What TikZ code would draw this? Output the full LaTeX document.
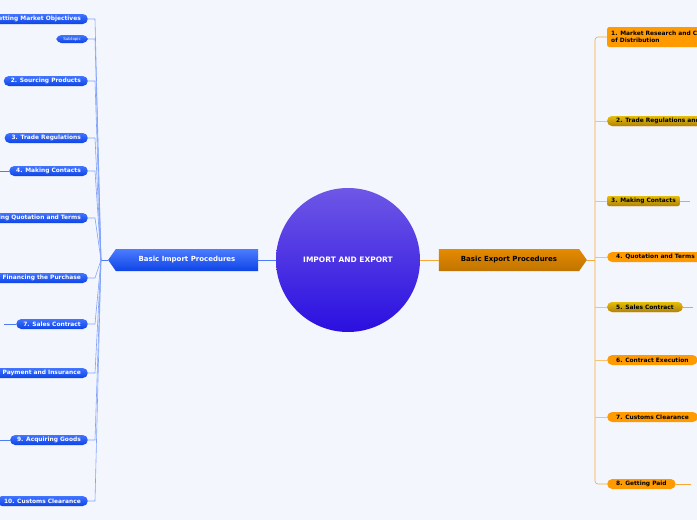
\documentclass[tikz,border=0pt]{standalone}
\usepackage{fontspec}
\setmainfont{DejaVu Sans}
\usetikzlibrary{shapes.geometric,shapes.symbols}
\definecolor{bg}{HTML}{F3F6FD}
\definecolor{bl}{HTML}{1F5BFF}
\definecolor{bld}{HTML}{0E44E6}
\definecolor{bline}{HTML}{4C7CF6}
\definecolor{og}{HTML}{FF9A00}
\definecolor{gold}{HTML}{D9A20E}
\definecolor{oline}{HTML}{F7A733}
\definecolor{ctop}{HTML}{6E57E6}
\definecolor{cbot}{HTML}{2A0FE0}
\begin{document}
\begin{tikzpicture}[x=1pt,y=-1pt,
 lnode/.style={rounded corners=5pt,top color=bl!85!white,bottom color=bld,text=white,font=\fontsize{5.9}{7}\selectfont\bfseries,minimum height=10pt,inner xsep=7pt,inner ysep=0pt,anchor=east},
 rnode/.style={rounded corners=5pt,fill=og,text=black,font=\fontsize{5.9}{7}\selectfont\bfseries,minimum height=10pt,inner xsep=9pt,inner ysep=0pt,anchor=west},
 gnode/.style={rnode,top color=gold!70!yellow,bottom color=gold!80!black},
 bcon/.style={draw=bline,line width=0.6pt},
 ocon/.style={draw=oline,line width=0.6pt}]
\clip (0,0) rectangle (697,520);
\fill[bg] (0,0) rectangle (697,520);
% center
\node[circle,minimum size=144pt,top color=ctop,bottom color=cbot,text=white,font=\fontsize{7.5}{9}\selectfont\bfseries] (c) at (348,260) {IMPORT AND EXPORT};
% main nodes
\node[signal,signal to=west,signal pointer angle=110,minimum width=150pt,minimum height=22pt,inner sep=0pt,top color=bl!80!white,bottom color=bld,text=white,font=\fontsize{7}{8}\selectfont\bfseries] (imp) at (187,260) {Basic Import Procedures};
\node[signal,signal to=east,signal pointer angle=110,minimum width=148pt,minimum height=22pt,inner sep=0pt,top color=og!90!black,bottom color=og!75!black,text=black,font=\fontsize{7}{8}\selectfont\bfseries] (exp) at (509,260) {Basic Export Procedures};
\draw[bcon] (c.west) -- (imp.east);
\draw[ocon] (c.east) -- (exp.west);
\coordinate (jl) at (101,260);
\draw[bcon] (imp.west) -- (jl);
% left children
\foreach \n/\y/\t in {a/19/1. Setting Market Objectives,c2/81/2. Sourcing Products,d/138/3. Trade Regulations,e/171/4. Making Contacts,f/218/5. Getting Quotation and Terms,g/278/6. Financing the Purchase,h/324/7. Sales Contract,i/373/8. Payment and Insurance,j/440/9. Acquiring Goods,k/501/10. Customs Clearance}{
 \node[lnode] (L\n) at (88,\y) {\t};
 \draw[bcon,draw=bline!70!white] (jl) -- (95,\y) -- (L\n.east);
}
\node[lnode,font=\fontsize{4}{5}\selectfont,minimum height=8pt] (Lb) at (88,39) {Subtopic};
\draw[bcon,draw=bline!70!white] (jl) -- (95,39) -- (Lb.east);
\draw[bcon] (Le.west) -- ++(-12,0);
\draw[bcon] (Lh.west) -- ++(-12,0);
\draw[bcon] (Lj.west) -- ++(-12,0);
% right children
\node[rnode,rounded corners=2pt,minimum height=20pt,align=left,inner xsep=4pt] (R1) at (607,37) {1. Market Research and Channels\\of Distribution};
\node[gnode] (R2) at (607,121) {2. Trade Regulations and Standards};
\node[gnode,rounded corners=2pt,inner xsep=4pt] (R3) at (607,201) {3. Making Contacts};
\node[rnode] (R4) at (607,257) {4. Quotation and Terms};
\node[gnode] (R5) at (607,307) {5. Sales Contract};
\node[rnode] (R6) at (607,360) {6. Contract Execution};
\node[rnode] (R7) at (607,417) {7. Customs Clearance};
\node[rnode] (R8) at (607,484) {8. Getting Paid};
\draw[ocon] (exp.east) -- (595,260);
\draw[ocon,rounded corners=3pt] (R1.west) -- (595,37) -- (595,484) -- (R8.west);
\foreach \r in {R2,R3,R4,R5,R6,R7}{\draw[ocon,draw=oline!70!white] (595,0|-\r.west) -- (\r.west);}
\draw[ocon] (R3.east) -- ++(10,0);
\draw[ocon] (R5.east) -- ++(10,0);
\draw[ocon] (R8.east) -- ++(15,0);
\end{tikzpicture}
\end{document}
